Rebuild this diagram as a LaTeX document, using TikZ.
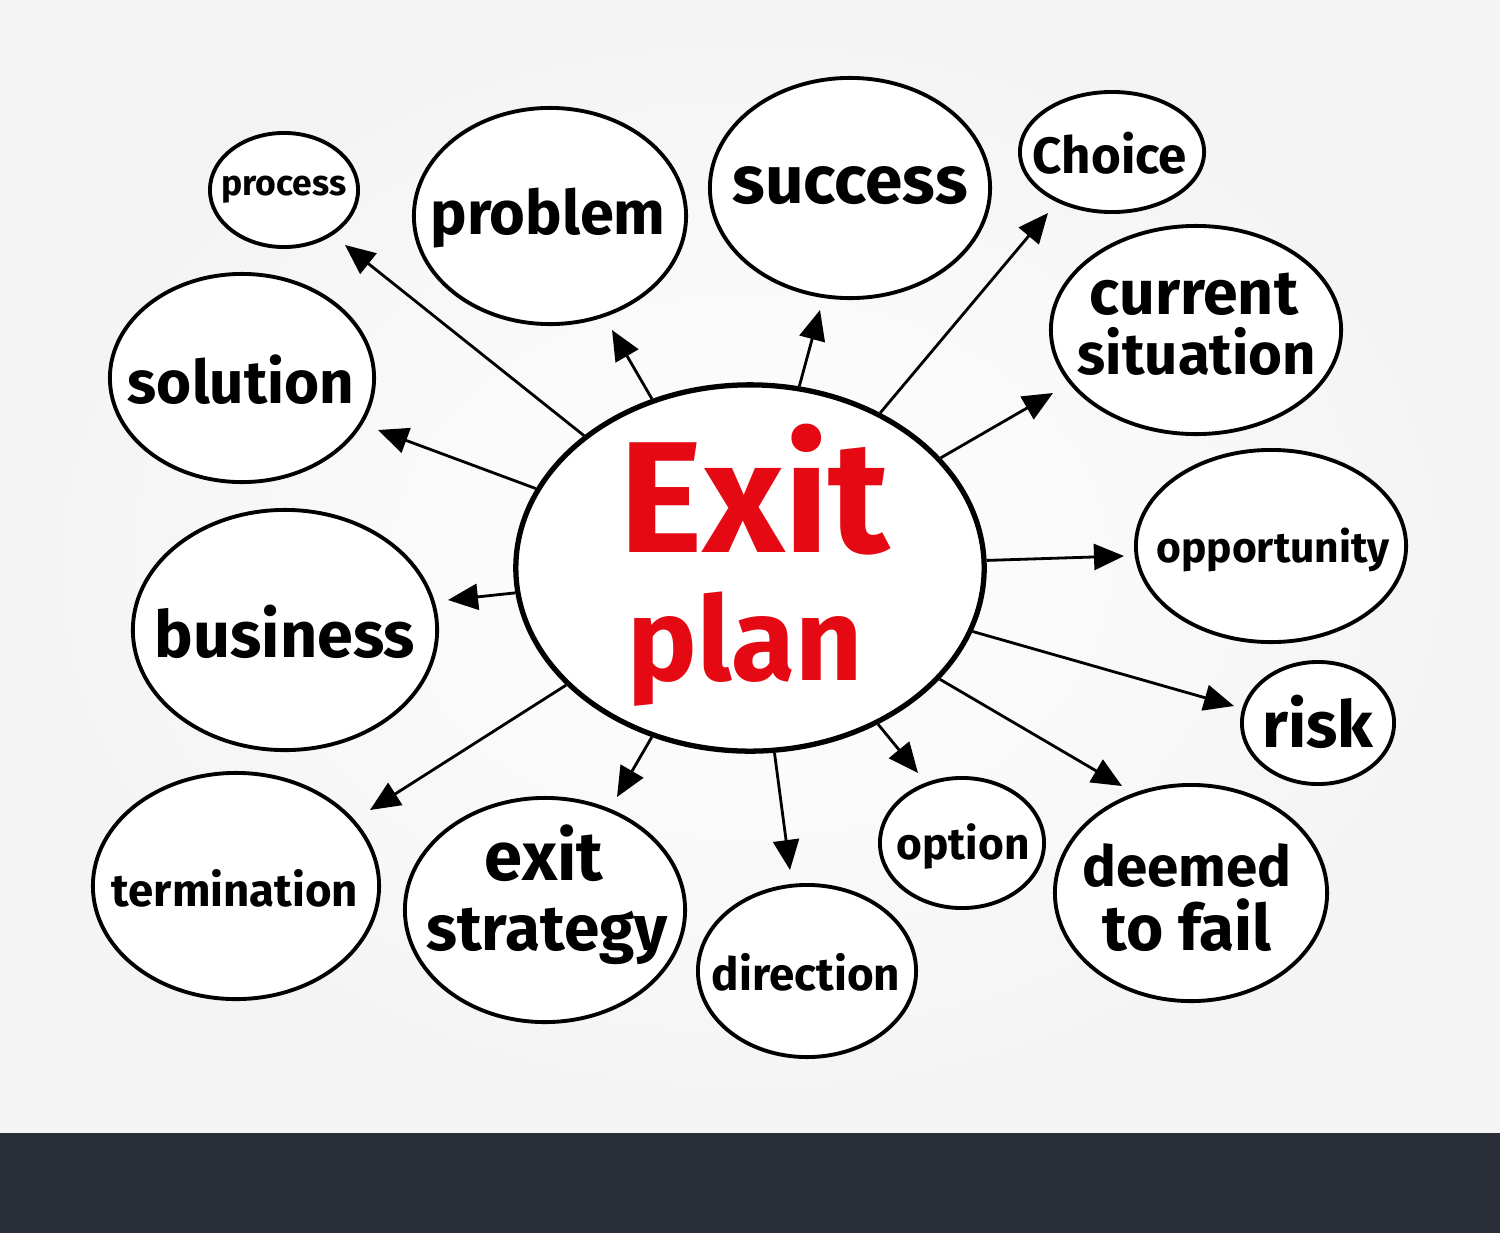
\documentclass[tikz,border=0pt]{standalone}
\usepackage{fontspec}
\usepackage{graphicx}
\setmainfont{Fira Sans}
\usetikzlibrary{shapes.geometric,arrows.meta}
\definecolor{inkred}{HTML}{E50914}
\definecolor{barcol}{HTML}{282D37}
\newcommand{\hw}[2]{\resizebox{#1}{!}{\bfseries #2}}
\tikzset{
  bub/.style n args={2}{ellipse, draw=black, line width=1.1pt, fill=white,
     minimum width={#1*0.02cm}, minimum height={#2*0.02cm}, inner sep=0pt},
  txt/.style={inner sep=0pt, font=\fontsize{10}{11}\selectfont},
  ln/.style={txt, anchor=base},
  arr/.style={line width=0.8pt, -{Triangle[length=0.3cm,width=0.26cm]}},
}
\begin{document}
\begin{tikzpicture}[x=0.01cm,y=-0.01cm]
\useasboundingbox (0,0) rectangle (1500,1233);
\shade[inner color=white, outer color=gray!9] (0,0) rectangle (1500,1133);
\fill[barcol] (0,1133) rectangle (1500,1233);

% centre
\node[bub={234}{183}, line width=1.5pt] (ex) at (750,568) {};
\node[ln, text=inkred] (ex1) at (755,552) {\hw{2.7cm}{Exit}};
\node[ln, text=inkred] (ex2) at (745,680) {\hw{2.35cm}{plan}};

% outer bubbles
\node[bub={74}{57}]   (pr) at (284,190)  {};
\node[bub={136}{108}] (pb) at (550,216)  {};
\node[bub={140}{110}] (su) at (850,188)  {};
\node[bub={92}{60}]   (ch) at (1112,152) {};
\node[bub={145}{104}] (cs) at (1196,330) {};
\node[bub={132}{104}] (so) at (242,378)  {};
\node[bub={135}{96}]  (op) at (1271,546) {};
\node[bub={152}{120}] (bu) at (285,630)  {};
\node[bub={76}{61}]   (ri) at (1318,723) {};
\node[bub={143}{113}] (te) at (236,886)  {};
\node[bub={140}{112}] (es) at (545,910)  {};
\node[bub={109}{86}]  (di) at (807,971)  {};
\node[bub={82}{65}]   (on) at (962,843)  {};
\node[bub={136}{108}] (df) at (1191,893) {};

% texts
\node[txt] (prt) at (284,190)  {\hw{1.25cm}{process}};
\node[txt] (pbt) at (548,218)  {\hw{2.35cm}{problem}};
\node[txt] (sut) at (850,186)  {\hw{2.35cm}{success}};
\node[txt] (cht) at (1110,153) {\hw{1.54cm}{Choice}};
\node[ln]  (cs1) at (1194,314) {\hw{2.08cm}{current}};
\node[ln]  (cs2) at (1197,374) {\hw{2.38cm}{situation}};
\node[txt] (sot) at (241,380)  {\hw{2.26cm}{solution}};
\node[txt] (opt) at (1273,550) {\hw{2.33cm}{opportunity}};
\node[txt] (but) at (285,632)  {\hw{2.6cm}{business}};
\node[txt] (rit) at (1318,722) {\hw{1.11cm}{risk}};
\node[txt] (tet) at (235,888)  {\hw{2.46cm}{termination}};
\node[ln]  (es1) at (544,880)  {\hw{1.18cm}{exit}};
\node[ln]  (es2) at (547,950)  {\hw{2.41cm}{strategy}};
\node[txt] (dit) at (806,972)  {\hw{1.88cm}{direction}};
\node[txt] (ont) at (963,846)  {\hw{1.33cm}{option}};
\node[ln]  (df1) at (1187,886) {\hw{2.09cm}{deemed}};
\node[ln]  (df2) at (1187,950) {\hw{1.69cm}{to fail}};

% arrow tips
\coordinate (tpr) at (345,245);
\coordinate (tpb) at (612,330);
\coordinate (tsu) at (820,310);
\coordinate (tch) at (1048,213);
\coordinate (tcs) at (1053,393);
\coordinate (tso) at (378,430);
\coordinate (top) at (1124,556);
\coordinate (tbu) at (448,600);
\coordinate (tri) at (1234,706);
\coordinate (tte) at (370,810);
\coordinate (tes) at (617,797);
\coordinate (tdi) at (790,870);
\coordinate (ton) at (918,773);
\coordinate (tdf) at (1122,786);

\foreach \t in {tpr,tpb,tsu,tch,tcs,tso,top,tbu,tri,tte,tes,tdi,ton,tdf}
  \draw[arr] (ex) -- (\t);
\end{tikzpicture}
\end{document}
